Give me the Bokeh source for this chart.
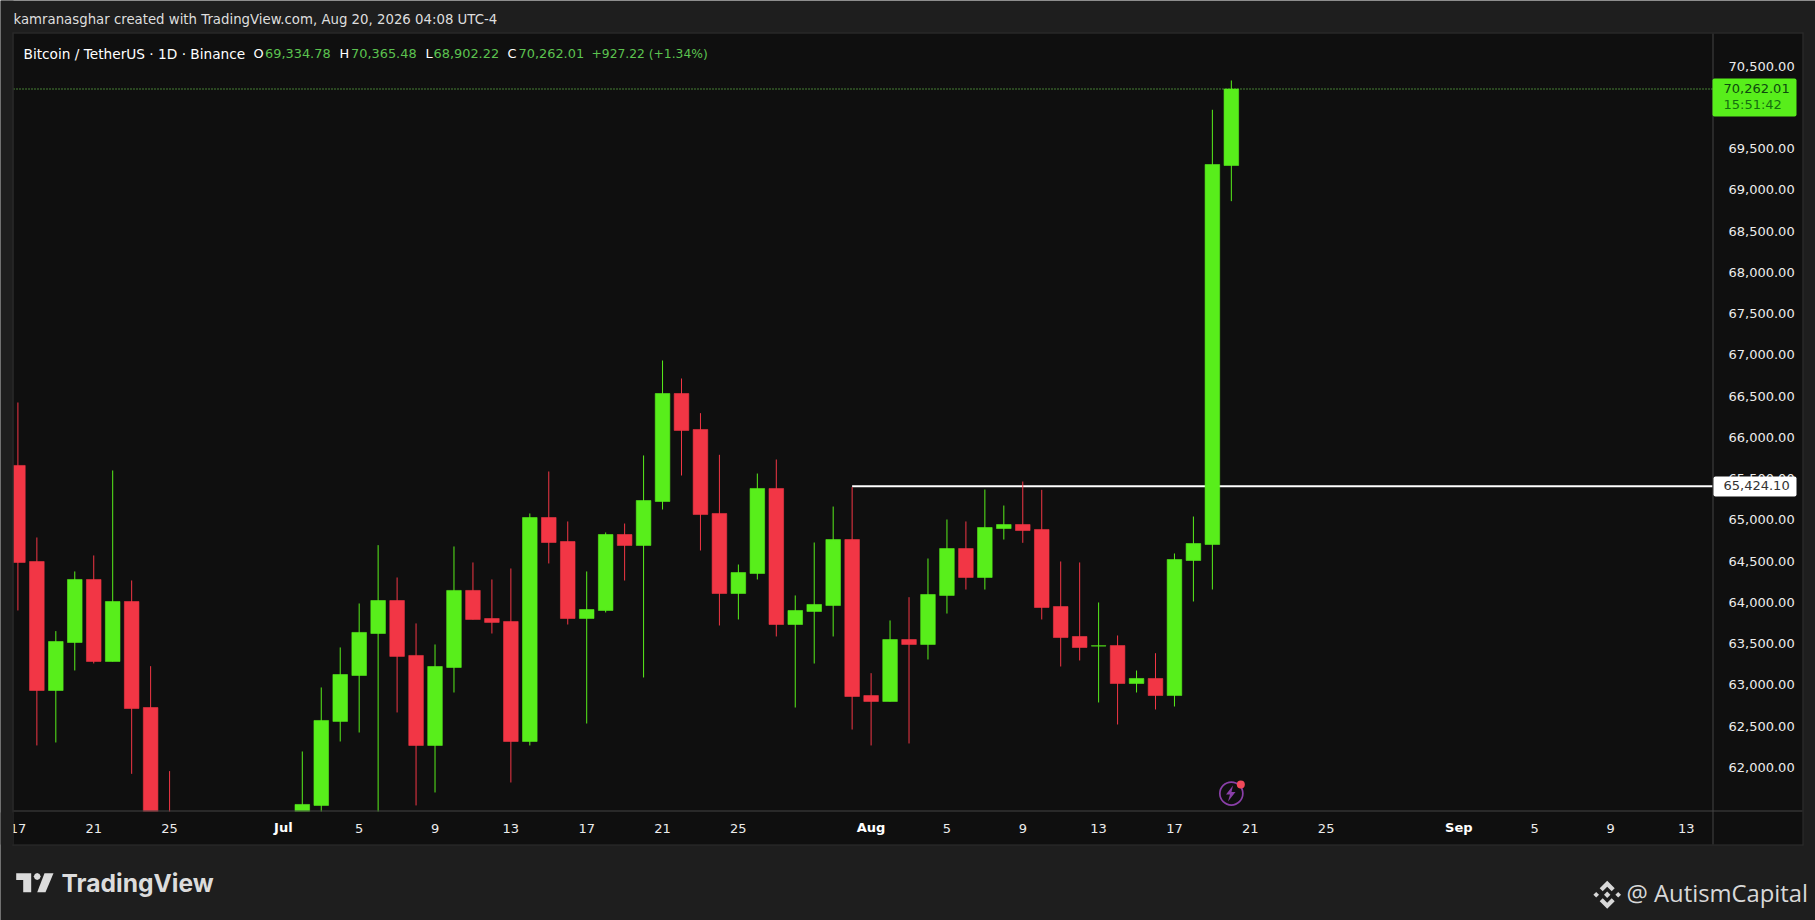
from bokeh.plotting import figure
from bokeh.embed import file_html
from bokeh.resources import INLINE
from bokeh.models import BoxAnnotation, ColumnDataSource, FixedTicker, Label, LinearAxis, NumeralTickFormatter, PolyAnnotation, Range1d

nan = float("nan")
# Daily candles from 17 Jun (index 0) to 20 Aug (index 64)
opens = [65699,64535,62971,63553,64317,63323,64050,62765,nan,nan,nan,nan,nan,nan,nan,61400,61578,62596,63153,63662,
         64062,63396,62305,63250,64184,63844,63808,62353,65068,64777,63844,63941,64862,64729,65262,66571,66135,65117,64147,64389,
         65420,63771,63929,64001,64801,62910,62838,63589,63529,64123,64692,64341,64934,64983,64923,63989,63626,63510,63516,63056,
         63117,62910,64547,64741,69334.78]
highs = [66462,64826,63691,64414,64608,65638,64305,63266,61994,nan,nan,nan,nan,nan,nan,62232,63008,63493,64026,64733,
         64341,63784,63529,64717,64523,64317,64450,65117,65626,65020,64414,64887,64995,65820,66971,66753,66333,65828,64498,65601,
         65771,64123,64765,65201,65436,63181,63820,64102,64571,65044,65020,65407,65213,65504,65403,64535,64523,64038,63638,63213,
         63423,64632,65080,70010,70365.48]
lows = [63941,62305,62341,63214,63299,63323,61961,61300,61300,nan,nan,nan,nan,nan,nan,61400,61400,62353,62462,61400,
        62705,61578,61735,62947,63832,63662,61856,62305,64511,63771,62571,63917,64304,63129,65165,65577,64668,63759,63832,64317,
        63626,62765,63298,63626,62498,62305,62838,62329,63347,63904,64195,64195,64801,64761,63832,63262,63335,62826,62559,62947,
        62741,62777,64050,64195,68902.22]
closes = [64523,62971,63565,64317,63323,64050,62753,61400,61300,nan,nan,nan,nan,nan,nan,61590,62608,63165,63675,64062,
          63384,62305,63262,64184,63832,63796,62353,65068,64765,63844,63953,64862,64729,65274,66571,66123,65104,64147,64401,65420,
          63771,63941,64014,64801,62898,62838,63589,63529,64135,64692,64341,64947,64983,64910,63977,63613,63492,63513,63056,63117,
          62910,64559,64753,69347,70262.01]
level_value = 65447
level_start = 44
last_price = 70262.01

price_ticks = [62000,62500,63000,63500,64000,64500,65000,65500,66000,66500,67000,67500,68000,68500,69000,69500,70000,70500]
day_ticks = {0:"17",4:"21",8:"25",18:"5",22:"9",26:"13",30:"17",34:"21",38:"25",49:"5",53:"9",57:"13",61:"17",65:"21",69:"25",80:"5",84:"9",88:"13"}
month_ticks = {14:"Jul",45:"Aug",76:"Sep"}

BG, PANEL, EDGE, AXIS = "#1e1e1e", "#0f0f0f", "#2c2c2c", "#454545"
UP, DOWN, TXT, LEG = "#58ee1b", "#f23645", "#ececec", "#5cc24f"
FONT = "DejaVu Sans"
W, H = 1815, 920

# pixel <-> data mapping of the chart panel
PX_DAY, PX_X0 = 18.96, 17.4
PX_USD, PX_Y0 = 0.0825, 88.5
px2x = lambda px: (px - PX_X0) / PX_DAY
px2y = lambda py: last_price - (py - PX_Y0) / PX_USD

p = figure(width=W, height=H, x_range=(px2x(0), px2x(W)), y_range=(px2y(H), px2y(0)),
           x_axis_location="below", y_axis_location=None, tools="", toolbar_location=None, output_backend="svg",
           min_border_left=0, min_border_right=0, min_border_top=0, min_border_bottom=0,
           background_fill_color=BG, border_fill_color=BG, outline_line_color=None)
p.grid.visible = False

def box(l, t, r, b, color, level="underlay", **kw):
    p.add_layout(BoxAnnotation(left=l, right=r, top=t, bottom=b,
                               left_units="canvas", right_units="canvas", top_units="canvas", bottom_units="canvas",
                               fill_color=color, fill_alpha=1, line_color=None, level=level, **kw))

def poly(pts, color):
    p.add_layout(PolyAnnotation(xs=[a for a, _ in pts], ys=[b for _, b in pts],
                                xs_units="canvas", ys_units="canvas", fill_color=color, fill_alpha=1,
                                line_color=None, level="annotation"))

def text(x, y, s, color=TXT, size=13, font=FONT, style="normal", align="left"):
    p.add_layout(Label(x=x, y=H - y, x_units="screen", y_units="screen", text=s, text_color=color,
                       text_font=font, text_font_size=f"{size}px", text_font_style=style,
                       text_align=align, text_baseline="middle"))

# chart panel
box(13, 33, 1802, 844, PANEL)

# horizontal level and last price line
p.segment([level_start], [level_value], [px2x(1712)], [level_value], line_color="#ffffff", line_width=2.2)
p.segment([px2x(13)], [last_price], [px2x(1712)], [last_price], line_color="#7ef05a", line_width=1, line_dash="1 2")

# candles
idx = list(range(len(opens)))
colors = [UP if c >= o else DOWN for o, c in zip(opens, closes)]
src = ColumnDataSource(dict(x=idx, o=opens, h=highs, l=lows, c=closes, col=colors))
p.segment("x", "h", "x", "l", source=src, line_color="col", line_width=1)
p.vbar(x="x", top="o", bottom="c", width=0.77, source=src, fill_color="col", line_color="col", line_width=0.6)

# covers that clip the candles to the panel
p.quad(left=[px2x(13)], right=[px2x(1802)], top=[px2y(811)], bottom=[px2y(844)], fill_color=PANEL, line_color=None)
p.quad(left=[px2x(0)], right=[px2x(13)], top=[px2y(0)], bottom=[px2y(H)], fill_color=BG, line_color=None)

# frame lines
p.quad(left=[px2x(13)], right=[px2x(1802)], top=[px2y(810)], bottom=[px2y(811)], fill_color=AXIS, line_color=None)
p.quad(left=[px2x(1712)], right=[px2x(1713)], top=[px2y(33)], bottom=[px2y(844)], fill_color=AXIS, line_color=None)
for l, t, r, b in [(12, 32, 1803, 33), (12, 844, 1803, 845), (12, 32, 13, 845), (1802, 32, 1803, 845)]:
    p.quad(left=[px2x(l)], right=[px2x(r)], top=[px2y(t)], bottom=[px2y(b)], fill_color=EDGE, line_color=None)

# alert icon
p.scatter([64], [61722], size=23, marker="circle", fill_color=None, line_color="#8a3fa8", line_width=1.7)
p.scatter([64.5], [61832], size=8, marker="circle", fill_color="#f2495a", line_color=None)
poly([(1232.5,785),(1225.5,794),(1229.5,794),(1227.5,801),(1235,791.5),(1231,791.5)], "#8a3fa8")

# price axis: its labels sit a little above the true price, as in TradingView's scale
LABEL_SHIFT = 3.3 / PX_USD
p.extra_y_ranges["labels"] = Range1d(px2y(H) - LABEL_SHIFT, px2y(0) - LABEL_SHIFT)
ya = LinearAxis(y_range_name="labels", fixed_location=px2x(1712))
p.add_layout(ya, "right")
ya.ticker = FixedTicker(ticks=price_ticks)
ya.formatter = NumeralTickFormatter(format="0,0.00")
ya.axis_line_color = None
ya.major_tick_line_color = None
ya.minor_tick_line_color = None
ya.major_label_standoff = 10
ya.major_label_text_color = TXT
ya.major_label_text_font = FONT
ya.major_label_text_font_size = "13px"

xa = p.xaxis[0]
xa.fixed_location = px2y(810)
xa.ticker = FixedTicker(ticks=list(day_ticks))
xa.major_label_overrides = day_ticks
xa.axis_line_color = None
xa.major_tick_line_color = None
xa.minor_tick_line_color = None
xa.major_label_standoff = 7
xa.major_label_text_color = TXT
xa.major_label_text_font = FONT
xa.major_label_text_font_size = "13px"

for i, s in month_ticks.items():
    p.add_layout(Label(x=i, y=H - 827, x_units="data", y_units="screen", text=s, text_color="#ffffff",
                       text_font=FONT, text_font_size="13px", text_font_style="bold",
                       text_align="center", text_baseline="middle"))

# the first tick label is cut by the panel edge
box(0, 812, 13, 844, BG, level="annotation")

# price tags
box(1712, 78, 1796, 116, UP, level="annotation", border_radius=2)
text(1723, 88, "70,262.01", color="#0d4a0d")
text(1723, 104, "15:51:42", color="#14700f")
box(1713, 476, 1796, 496, "#ffffff", level="annotation", border_radius=2)
text(1723, 485, "65,424.10", color="#333333")

# header and legend
text(13, 19, "kamranasghar created with TradingView.com, Aug 20, 2026 04:08 UTC-4", color="#dedede", size=13.3)
text(23, 53, "Bitcoin / TetherUS · 1D · Binance", color="#ffffff", size=13.7)
for x, s, c in [(253, "O", "#ffffff"), (264.5, "69,334.78", LEG), (339, "H", "#ffffff"), (350.5, "70,365.48", LEG),
                (425, "L", "#ffffff"), (433, "68,902.22", LEG), (507, "C", "#ffffff"), (518, "70,262.01", LEG)]:
    text(x, 53, s, color=c, size=12.9)
text(591, 53, "+927.22 (+1.34%)", color=LEG, size=12.3)

# footer logo and watermark
LOGO = "#dcdcdc"
poly([(15.7,872.7),(30.7,872.7),(30.7,891.7),(22.7,891.7),(22.7,879.5),(15.7,879.5)], LOGO)
poly([(36.7,872.5),(39,873.4),(40.2,876),(39,878.6),(36.7,879.5),(34.4,878.6),(33.2,876),(34.4,873.4)], LOGO)
poly([(44,872.7),(53,872.7),(45,891.7),(36.7,891.7)], LOGO)
text(61, 882, "TradingView", color=LOGO, size=24.6, font="Inter", style="bold")

cx, cy = 1606.7, 894.3
WM = "#d8d8d8"
poly([(cx,cy-14),(cx+7.5,cy-6.5),(cx+4.5,cy-3.5),(cx,cy-8),(cx-4.5,cy-3.5),(cx-7.5,cy-6.5)], WM)
poly([(cx,cy+14),(cx+7.5,cy+6.5),(cx+4.5,cy+3.5),(cx,cy+8),(cx-4.5,cy+3.5),(cx-7.5,cy+6.5)], WM)
poly([(cx,cy-3.2),(cx+3.2,cy),(cx,cy+3.2),(cx-3.2,cy)], WM)
poly([(cx-11,cy-2.8),(cx-8.2,cy),(cx-11,cy+2.8),(cx-13.8,cy)], WM)
poly([(cx+11,cy-2.8),(cx+13.8,cy),(cx+11,cy+2.8),(cx+8.2,cy)], WM)
text(1626, 892, "@ AutismCapital", color=WM, size=23.8, font="Open Sans")

open("out.html", "w").write(file_html(p, INLINE))
